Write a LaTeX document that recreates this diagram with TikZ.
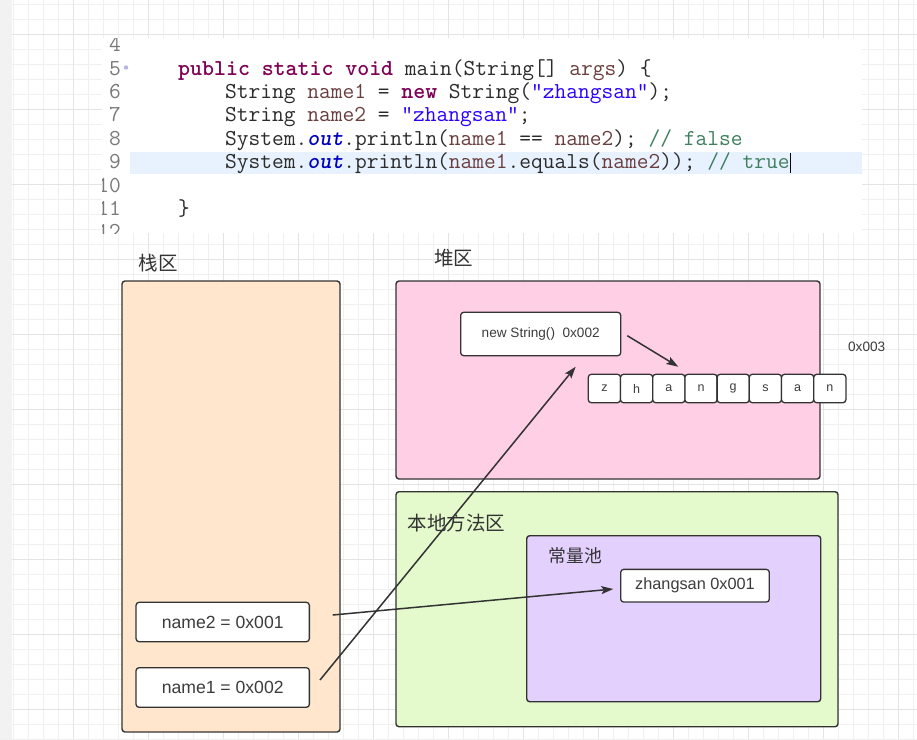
\documentclass[tikz,border=0pt]{standalone}
\usepackage{fontspec}
\setmainfont{Liberation Sans}
\newfontfamily\cjk{Noto Sans CJK SC}
\usetikzlibrary{arrows.meta}
\definecolor{gridminor}{HTML}{F0F0F0}
\definecolor{gridmajor}{HTML}{E4E4E4}
\definecolor{strip}{HTML}{F2F2F2}
\definecolor{hlc}{HTML}{E8F2FE}
\definecolor{kwc}{HTML}{7F0055}
\definecolor{strc}{HTML}{2A00FF}
\definecolor{varc}{HTML}{6A3E3E}
\definecolor{fldc}{HTML}{0000C0}
\definecolor{comc}{HTML}{3F7F5F}
\definecolor{codec}{HTML}{2B2B2B}
\definecolor{lnc}{HTML}{787878}
\definecolor{stackc}{HTML}{FFE6CC}
\definecolor{heapc}{HTML}{FFCFE5}
\definecolor{nativec}{HTML}{E4FACC}
\definecolor{poolc}{HTML}{E4D0FD}
\definecolor{linec}{HTML}{333333}
\definecolor{textc}{HTML}{3C3C3C}
\newcommand\jkw[1]{\textcolor{kwc}{\bfseries #1}}
\newcommand\jstr[1]{\textcolor{strc}{#1}}
\newcommand\jvar[1]{\textcolor{varc}{#1}}
\newcommand\jfld[1]{\textcolor{fldc}{\bfseries\itshape #1}}
\newcommand\jcom[1]{\textcolor{comc}{#1}}
\frenchspacing
\begin{document}
\begin{tikzpicture}[x=1pt,y=-1pt,
  codeline/.style={anchor=base west,inner sep=0pt,text=codec,font=\ttfamily\fontsize{22.8}{26}\selectfont},
  lnum/.style={anchor=base east,inner sep=0pt,text=lnc,font=\ttfamily\fontsize{22.8}{26}\selectfont},
  region/.style={draw=linec,line width=1.4pt,rounded corners=3pt,inner sep=0pt},
  cell/.style={draw=linec,line width=1.3pt,fill=white,rounded corners=3pt,inner sep=0pt,text=textc},
  chr/.style={cell,minimum width=32.2pt,minimum height=28.4pt,font=\fontsize{12.5}{14}\selectfont},
  lbl/.style={inner sep=0pt,text=linec},
  arr/.style={draw=linec,line width=1.5pt,-{Stealth[length=12pt,width=8pt,inset=2.5pt]}}
]
\useasboundingbox (0,0) rectangle (917,739);
\fill[white] (0,0) rectangle (917,739);
% grid
\foreach \x in {13,28,...,913} \draw[gridminor,line width=0.8pt] (\x,0) -- (\x,739);
\foreach \y in {4,19,...,739} \draw[gridminor,line width=0.8pt] (0,\y) -- (917,\y);
\foreach \x in {73,148,...,898} \draw[gridmajor,line width=0.9pt] (\x,0) -- (\x,739);
\foreach \y in {34,109,...,739} \draw[gridmajor,line width=0.9pt] (0,\y) -- (917,\y);
\fill[strip] (0,0) rectangle (12,739);
% code panel
\fill[white] (102,38) rectangle (862,233);
\fill[hlc] (130,152) rectangle (862,174);
\begin{scope}
\clip (102,38) rectangle (862,233);
\foreach \n [count=\i from 0] in {4,5,6,7,8,9,10,11,12}
  \node[lnum] (ln\n) at (121,51.6+23.4*\i) {\n};
\end{scope}
\fill[gray!55!blue!40] (126,67.5) circle (2.2pt);
\node[codeline] (c5) at (178,75) {\jkw{public} \jkw{static} \jkw{void} main(String[] \jvar{args}) \{};
\node[codeline] (c6) at (225,98.4) {String \jvar{name1} = \jkw{new} String(\jstr{"zhangsan"});};
\node[codeline] (c7) at (225,121.8) {String \jvar{name2} = \jstr{"zhangsan"};};
\node[codeline] (c8) at (225,145.2) {System.\jfld{out}.println(\jvar{name1} == \jvar{name2}); \jcom{// false}};
\node[codeline] (c9) at (225,168.6) {System.\jfld{out}.println(\jvar{name1}.equals(\jvar{name2})); \jcom{// true}};
\node[codeline] (c11) at (178,215.4) {\}};
\draw[black,line width=1.3pt] (790.5,153) -- (790.5,173);
% regions
\node[region,fill=stackc,minimum width=218pt,minimum height=451pt] (stack) at (231,506.5) {};
\node[region,fill=heapc,minimum width=424pt,minimum height=198pt] (heap) at (608,380) {};
\node[region,fill=nativec,minimum width=442pt,minimum height=235pt] (native) at (617,609.2) {};
\node[region,fill=poolc,minimum width=294pt,minimum height=166pt] (pool) at (673.7,618.7) {};
% labels
\node[lbl,font=\cjk\fontsize{19.5}{22}\selectfont] (lstack) at (158,263) {栈区};
\node[lbl,font=\cjk\fontsize{19.5}{22}\selectfont] (lheap) at (453.5,258) {堆区};
\node[lbl,anchor=west,font=\cjk\fontsize{19.5}{22}\selectfont] (lnative) at (407.5,522.7) {本地方法区};
\node[lbl,anchor=west,font=\cjk\fontsize{17.8}{20}\selectfont] (lpool) at (548.5,556) {常量池};
\node[lbl,text=textc,font=\fontsize{13.6}{16}\selectfont] (addr3) at (866.7,347.3) {0x003};
% cells
\node[cell,minimum width=160pt,minimum height=43.4pt,font=\fontsize{13.6}{16}\selectfont] (newstr) at (540.7,334) {new String()\ \ 0x002};
\foreach \c [count=\k from 0] in {z,h,a,n,g,s,a,n}
  \node[chr] (ch\k) at (604.4+32.2*\k,388.5) {\c};
\node[cell,minimum width=148.6pt,minimum height=32.7pt,font=\fontsize{16.3}{19}\selectfont] (zhang) at (695,585.7) {zhangsan 0x001};
\node[cell,minimum width=173.3pt,minimum height=39.4pt,font=\fontsize{17.6}{20}\selectfont] (name2) at (222.7,622) {name2 = 0x001};
\node[cell,minimum width=173.3pt,minimum height=39.6pt,font=\fontsize{17.6}{20}\selectfont] (name1) at (222.7,687.5) {name1 = 0x002};
% connector ends
\coordinate (a1s) at (627.3,335.7);
\coordinate (a1e) at (678.3,366.7);
\coordinate (a2s) at (320,680);
\coordinate (a2e) at (575.7,366.7);
\coordinate (a3s) at (332.7,615);
\coordinate (a3e) at (613.3,589);
\draw[arr] (a1s) -- (a1e);
\draw[arr] (a2s) -- (a2e);
\draw[arr] (a3s) -- (a3e);
\end{tikzpicture}
\end{document}
